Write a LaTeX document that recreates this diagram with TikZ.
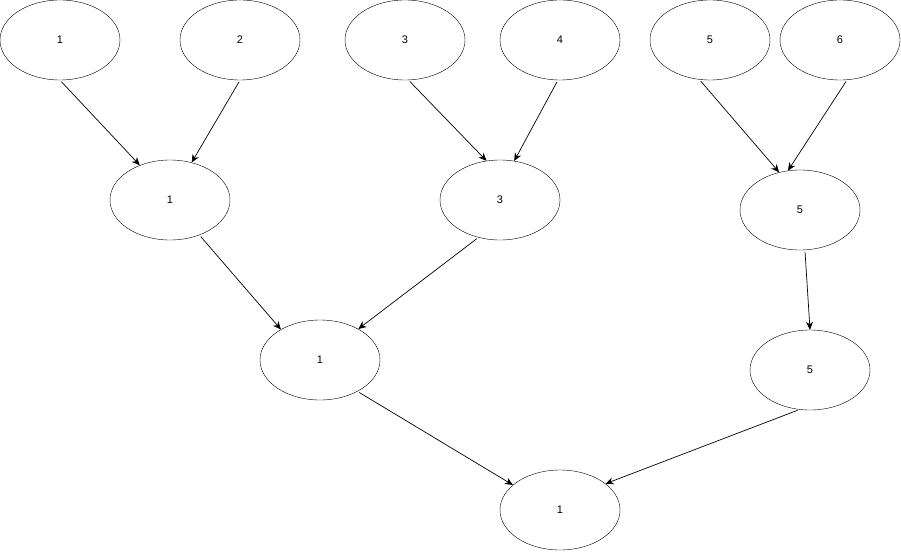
\documentclass[tikz,border=0pt]{standalone}
\usepackage{fontspec}
\setmainfont{Liberation Sans}
\usetikzlibrary{shapes.geometric,arrows.meta}
\begin{document}
\begin{tikzpicture}[x=1pt,y=-1pt,
  el/.style={draw,ellipse,minimum width=120pt,minimum height=80pt,inner sep=0pt,font=\fontsize{11}{13}\selectfont},
  ar/.style={-{Stealth[length=8pt,width=7pt]},line width=0.7pt,shorten <=2pt}]
\path[use as bounding box] (0,0) rectangle (901,551);
\node[el] (t1) at (60,40) {1};
\node[el] (t2) at (240,40) {2};
\node[el] (t3) at (405,40) {3};
\node[el] (t4) at (560,40) {4};
\node[el] (t5) at (710,40) {5};
\node[el] (t6) at (840,40) {6};
\node[el] (n1) at (170,200) {1};
\node[el] (n3) at (500,200) {3};
\node[el] (n5) at (800,210) {5};
\node[el] (m1) at (320,360) {1};
\node[el] (m5) at (810,370) {5};
\node[el] (b) at (560,510) {1};
\draw[ar] (t1.south) -- (n1.131);
\draw[ar] (t2.south) -- (n1.60);
\draw[ar] (t3.-85) -- (n3.109);
\draw[ar] (t4.-93) -- (n3.70);
\draw[ar] (t5.-105) -- (n5.119);
\draw[ar] (t6.-80) -- (n5.107);
\draw[ar] (n1.-50) -- (m1.142);
\draw[ar] (n3.-120) -- (m1.39);
\draw[ar] (n5.-83) -- (m5.north);
\draw[ar] (m1.-40) -- (b.152);
\draw[ar] (m5.-105) -- (b.30);
\end{tikzpicture}
\end{document}
